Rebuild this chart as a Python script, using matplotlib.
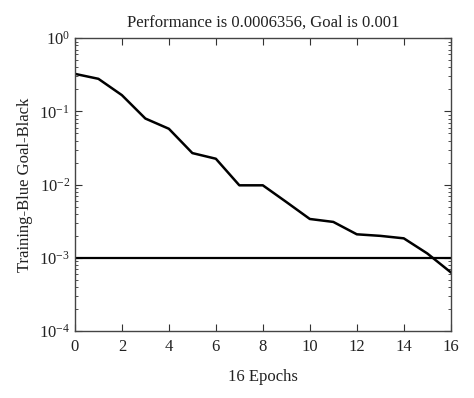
import matplotlib
matplotlib.use("Agg")
import matplotlib.pyplot as plt
from matplotlib.ticker import LogLocator, FixedLocator, NullFormatter

plt.rcParams['font.family'] = ['Liberation Serif', 'DejaVu Serif']
plt.rcParams['mathtext.fontset'] = 'stix'

# training performance per epoch
epochs = [0, 1, 2, 3, 4, 5, 6, 7, 8, 9, 10, 11, 12, 13, 14, 15, 16]
perf = [0.326, 0.279, 0.167, 0.080, 0.058, 0.027, 0.0226, 0.0098, 0.0098,
        0.0058, 0.0034, 0.0031, 0.0021, 0.0020, 0.00185, 0.00115, 0.0006356]
goal = 0.001
xticks = [0, 2, 4, 6, 8, 10, 12, 14, 16]

fig = plt.figure(figsize=(4.74, 3.98), dpi=100)
ax = fig.add_axes([0.158, 0.168, 0.793, 0.736])

ax.semilogy(epochs, perf, color='black', lw=1.8)
ax.axhline(goal, color='black', lw=1.6)

ax.set_xlim(0, 16)
ax.set_ylim(1e-4, 1)
ax.xaxis.set_major_locator(FixedLocator(xticks))
ax.yaxis.set_major_locator(LogLocator(base=10, numticks=10))
ax.yaxis.set_minor_locator(LogLocator(base=10, subs=range(2, 10), numticks=10))
ax.yaxis.set_minor_formatter(NullFormatter())

ax.tick_params(which='both', direction='in', top=True, right=True,
               labelsize=12, colors='#333333', labelcolor='#222222')
ax.tick_params(which='major', length=5)
ax.tick_params(which='minor', length=2.5)
ax.tick_params(axis='x', pad=6)
for s in ax.spines.values():
    s.set_color('#444444')
    s.set_linewidth(1.0)

ax.set_title('Performance is 0.0006356, Goal is 0.001', fontsize=12, color='#222222', pad=8)
ax.set_xlabel('16 Epochs', fontsize=12, color='#222222', labelpad=10)
ax.set_ylabel('Training-Blue Goal-Black', fontsize=12, color='#222222', labelpad=4)

fig.savefig('out.png', dpi=100)
